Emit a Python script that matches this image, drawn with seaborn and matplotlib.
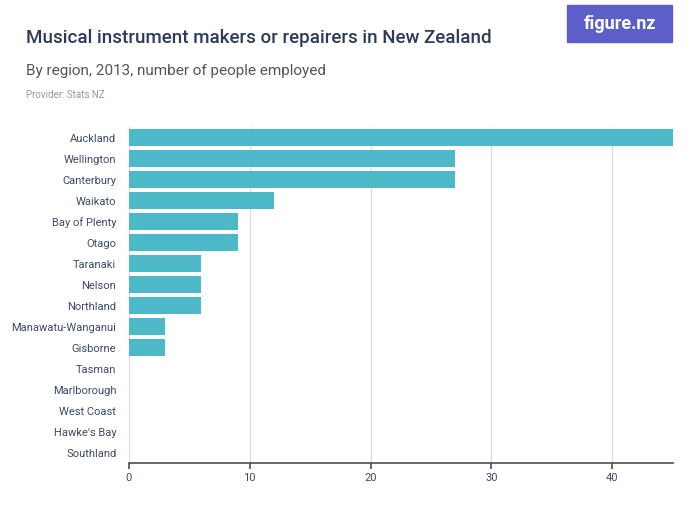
import matplotlib
matplotlib.use("Agg")
import matplotlib.pyplot as plt
import seaborn as sns
import pandas as pd
from matplotlib.patches import Rectangle

regions = ["Auckland", "Wellington", "Canterbury", "Waikato", "Bay of Plenty", "Otago",
           "Taranaki", "Nelson", "Northland", "Manawatu-Wanganui", "Gisborne", "Tasman",
           "Marlborough", "West Coast", "Hawke's Bay", "Southland"]
values = [45, 27, 27, 12, 9, 9, 6, 6, 6, 3, 3, 0, 0, 0, 0, 0]
ticks = [0, 10, 20, 30, 40]

sns.set_theme(style="white")
plt.rcParams['font.family'] = ['Roboto', 'DejaVu Sans']
df = pd.DataFrame({"region": regions, "value": values})

fig = plt.figure(figsize=(7, 5.25), dpi=100)
ax = fig.add_axes([0.184, 0.118, 0.777, 0.64])
sns.barplot(data=df, x="value", y="region", color="#4DB8C8", saturation=1, width=0.8,
            linewidth=0, edgecolor="none", ax=ax, zorder=2)
ax.set_xlim(0, 45)
ax.set_xticks(ticks)
ax.grid(axis="x", color="#dddddd", lw=1, zorder=0)
ax.set_axisbelow(True)
for s in ax.spines.values():
    s.set_visible(False)
ax.spines["bottom"].set_visible(True)
ax.spines["bottom"].set_color("#555555")
ax.set_xlabel(""); ax.set_ylabel("")
ax.tick_params(axis="y", length=0, labelsize=8, labelcolor="#3d4a66", pad=9)
ax.tick_params(axis="x", length=4, color="#555555", labelsize=8, labelcolor="#3d4a66", bottom=True)

fig.text(0.037, 0.918, "Musical instrument makers or repairers in New Zealand", fontsize=13.5, color="#2d3a5a", weight="medium")
fig.text(0.037, 0.857, "By region, 2013, number of people employed", fontsize=11, color="#555555")
fig.text(0.037, 0.813, "Provider: Stats NZ", fontsize=7, color="#999999")
fig.patches.append(Rectangle((0.81, 0.92), 0.15, 0.07, transform=fig.transFigure, color="#5B5FC7"))
fig.text(0.885, 0.955, "figure.nz", fontsize=13, color="white", ha="center", va="center", weight="bold")
fig.savefig("out.png", dpi=100)
